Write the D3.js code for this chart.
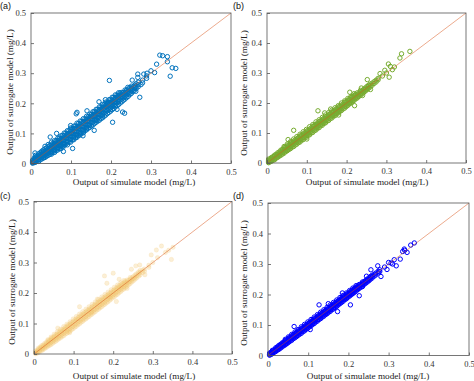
<!DOCTYPE html><html><head><meta charset="utf-8">
<script src="https://cdn.jsdelivr.net/npm/d3@7"></script>
<style>body{margin:0;background:#fff}svg{display:block}</style></head><body>
<svg id="c" width="474" height="381"></svg>
<script>
const tickValues=[0,0.1,0.2,0.3,0.4,0.5];
const tickLabels=["0","0.1","0.2","0.3","0.4","0.5"];
const panelLabels=["(a)","(b)","(c)","(d)"];
const xTitle="Output of simulate model (mg/L)";
const yTitle="Output of surrogate model (mg/L)";
// band columns: [x, y1, y2, ...]
const bandA=[[.004,.001,.006,.011,.003],[.011,.004,.009,.016,.021,.027],[.019,.007,.014,.020,.026,.032,.012],[.027,.015,.022,.028,.035,.041,.019],[.035,.020,.028,.034,.042,.049,.025,.057],[.043,.027,.034,.041,.048,.056,.038,.063],[.051,.031,.040,.047,.054,.062,.036,.071],[.059,.037,.046,.054,.061,.068,.076,.043],[.067,.045,.053,.061,.069,.077,.084,.050],[.075,.049,.060,.068,.076,.083,.092,.056],[.083,.058,.067,.076,.085,.093,.101,.063],[.091,.062,.074,.083,.092,.099,.109,.070],[.099,.071,.081,.091,.100,.108,.118,.126],[.107,.079,.089,.099,.107,.116,.124,.085],[.115,.087,.097,.106,.116,.124,.134,.092],[.123,.095,.104,.115,.123,.131,.141,.100],[.131,.102,.113,.122,.132,.139,.149,.108],[.139,.112,.121,.130,.139,.148,.157,.117],[.147,.120,.129,.139,.148,.155,.164,.126],[.155,.128,.137,.147,.156,.163,.172],[.163,.137,.146,.155,.164,.171,.180,.142],[.171,.144,.154,.164,.172,.179,.188],[.179,.152,.163,.171,.180,.187,.196,.158],[.187,.161,.171,.180,.188,.195,.204],[.195,.170,.179,.188,.196,.203,.212],[.203,.179,.188,.196,.204,.211,.220],[.211,.188,.197,.205,.212,.219,.228],[.219,.196,.206,.213,.220,.227,.235],[.227,.205,.214,.221,.229,.236],[.235,.214,.222,.229,.237,.244],[.243,.223,.231,.239,.247],[.251,.233,.242,.250,.257],[.259,.244,.252,.260],[.268,.255,.262,.270],[.279,.268,.277],[.289,.283,.291]];
const coreA=[[.008,.003,.008,.013,.018],[.015,.008,.013,.019,.024],[.023,.012,.018,.024,.030,.036],[.031,.018,.025,.031,.038,.045],[.039,.024,.031,.039,.045,.052],[.047,.030,.038,.046,.053,.060],[.055,.036,.045,.054,.061,.068],[.063,.043,.052,.061,.068,.076],[.071,.050,.059,.069,.077,.085],[.079,.057,.066,.076,.085,.093],[.087,.064,.074,.084,.092,.101],[.095,.071,.081,.092,.100,.109],[.103,.078,.089,.099,.108,.117],[.111,.085,.096,.107,.116,.125],[.119,.093,.104,.115,.124,.133],[.127,.101,.112,.123,.132,.140],[.135,.109,.120,.131,.140,.148],[.143,.117,.128,.139,.148,.156],[.151,.125,.136,.147,.156,.164],[.159,.133,.144,.155,.164,.172],[.167,.141,.152,.163,.172,.180],[.175,.149,.160,.171,.180,.188],[.183,.157,.168,.179,.188,.196],[.191,.166,.176,.187,.196,.204],[.199,.174,.185,.195,.204,.212],[.207,.183,.193,.203,.212,.220],[.215,.192,.202,.211,.220,.227],[.223,.201,.211,.219,.228,.235],[.231,.210,.219,.227,.236],[.239,.219,.228,.236,.244],[.247,.229,.237,.245,.252],[.255,.239,.247,.255],[.263,.249,.257,.265]];
const outA=[[.322,.360],[.329,.358],[.341,.355],[.341,.338],[.362,.316],[.353,.318],[.348,.290],[.309,.302],[.314,.330],[.300,.308],[.290,.300],[.282,.297],[.267,.297],[.196,.276],[.253,.277],[.267,.286],[.272,.220],[.242,.253],[.234,.167],[.229,.171],[.204,.137],[.115,.170],[.113,.165],[.098,.079],[.104,.050],[.158,.110],[.048,.088],[.010,.035],[.275,.262],[.262,.240],[.186,.212],[.170,.205],[.140,.175],[.215,.180],[.064,.100],[.081,.040],[.130,.092]];
const bandB=[[.004,.001,.005,.009,.003],[.011,.006,.010,.015,.018],[.019,.011,.016,.022,.026],[.027,.019,.023,.029,.034],[.035,.026,.032,.037,.043],[.043,.033,.039,.045,.051,.055],[.051,.041,.046,.052,.057,.063],[.059,.048,.054,.061,.066,.071],[.067,.055,.062,.068,.073,.080],[.075,.063,.069,.076,.081,.088],[.083,.070,.077,.083,.090,.096],[.091,.078,.085,.092,.097,.104],[.099,.086,.093,.099,.106,.112],[.107,.094,.101,.108,.113,.121],[.115,.102,.109,.115,.122,.128],[.123,.110,.117,.124,.129,.137],[.131,.118,.125,.131,.138,.144],[.139,.126,.133,.140,.145,.152],[.147,.134,.141,.147,.154,.160],[.155,.142,.149,.156,.161,.168],[.163,.150,.157,.163,.170,.176],[.171,.158,.165,.172,.177,.184],[.179,.167,.173,.179,.186,.191],[.187,.175,.181,.188,.193,.200],[.195,.183,.190,.195,.202,.207],[.203,.192,.198,.204,.209,.215],[.211,.200,.206,.211,.218,.222],[.219,.209,.214,.220,.225,.231],[.227,.217,.223,.228,.234],[.235,.226,.231,.237,.242],[.243,.235,.240,.246],[.251,.244,.249,.255],[.259,.253,.258,.263],[.269,.265,.271],[.279,.277,.282]];
const coreB=[[.008,.004,.008,.012],[.015,.009,.013,.017,.021],[.023,.016,.020,.025,.029],[.031,.023,.027,.032,.037],[.039,.030,.035,.040,.045],[.047,.038,.043,.048,.053],[.055,.045,.050,.056,.061],[.063,.053,.058,.064,.069],[.071,.060,.066,.072,.077],[.079,.068,.073,.080,.085],[.087,.076,.081,.088,.093],[.095,.084,.089,.096,.101],[.103,.092,.097,.104,.109],[.111,.100,.105,.112,.117],[.119,.108,.113,.120,.125],[.127,.116,.121,.128,.133],[.135,.124,.129,.136,.141],[.143,.132,.137,.144,.149],[.151,.140,.145,.152,.157],[.159,.148,.153,.160,.165],[.167,.156,.161,.168,.173],[.175,.164,.169,.176,.181],[.183,.172,.177,.184,.189],[.191,.180,.186,.192,.197],[.199,.188,.194,.200,.205],[.207,.197,.202,.208,.213],[.215,.205,.210,.216,.221],[.223,.214,.219,.224,.229],[.231,.222,.227,.233],[.239,.231,.236,.241],[.247,.240,.245,.250],[.255,.249,.254,.259],[.264,.259,.266],[.274,.270,.276]];
const outB=[[.359,.372],[.338,.364],[.334,.350],[.310,.322],[.315,.311],[.307,.286],[.296,.309],[.284,.298],[.252,.278],[.237,.250],[.208,.236],[.208,.200],[.220,.191],[.145,.167],[.128,.174],[.067,.109],[.053,.078],[.004,.013],[.300,.300],[.305,.330],[.320,.320],[.290,.290],[.260,.245],[.180,.160],[.240,.225],[.100,.080],[.160,.180]];
const bandC=[[.004,.001,.006,.010,.003],[.011,.005,.010,.015,.019],[.019,.011,.016,.022,.027],[.027,.018,.023,.029,.035],[.035,.025,.031,.037,.043,.047],[.043,.031,.038,.045,.051,.056],[.051,.039,.046,.052,.058,.065],[.059,.046,.053,.060,.066,.073],[.067,.053,.060,.068,.074,.081],[.075,.060,.068,.076,.082,.090],[.083,.068,.076,.083,.091,.098],[.091,.075,.083,.092,.099,.106],[.099,.083,.091,.099,.107,.115],[.107,.091,.099,.108,.115,.123],[.115,.099,.107,.115,.123,.131],[.123,.107,.115,.124,.131,.139],[.131,.115,.123,.131,.139,.147],[.139,.123,.131,.140,.147,.155],[.147,.131,.139,.147,.155,.163],[.155,.139,.147,.156,.163,.171],[.163,.147,.155,.163,.171,.179],[.171,.155,.163,.172,.179,.187],[.179,.163,.171,.180,.187,.195],[.187,.171,.180,.188,.195,.203],[.195,.180,.188,.195,.203,.211],[.203,.188,.196,.204,.211,.219],[.211,.196,.204,.212,.219,.226],[.219,.205,.213,.220,.227,.234],[.227,.213,.221,.228,.235,.241],[.235,.222,.230,.236,.243],[.243,.231,.238,.245,.251],[.251,.240,.247,.254],[.259,.249,.256,.263],[.268,.259,.267,.274],[.279,.271,.279],[.290,.284,.291]];
const coreC=[[.008,.003,.007,.012],[.015,.008,.013,.018,.022],[.023,.014,.019,.025,.030],[.031,.021,.027,.033,.038],[.039,.028,.034,.041,.046],[.047,.035,.042,.049,.054],[.055,.042,.049,.057,.063],[.063,.050,.057,.065,.071],[.071,.057,.065,.073,.079],[.079,.065,.072,.081,.087],[.087,.072,.080,.089,.095],[.095,.080,.088,.097,.103],[.103,.088,.096,.105,.111],[.111,.096,.104,.113,.119],[.119,.104,.112,.121,.127],[.127,.112,.120,.129,.135],[.135,.120,.128,.137,.143],[.143,.128,.136,.145,.151],[.151,.136,.144,.153,.159],[.159,.144,.152,.161,.167],[.167,.152,.160,.169,.175],[.175,.160,.168,.177,.183],[.183,.168,.176,.185,.191],[.191,.176,.184,.193,.199],[.199,.185,.193,.201,.207],[.207,.193,.201,.209,.215],[.215,.201,.209,.217,.223],[.223,.210,.218,.225,.231],[.231,.218,.226,.233,.239],[.239,.227,.235,.242],[.247,.236,.244,.250],[.255,.245,.252,.259],[.264,.255,.263,.269],[.274,.267,.275]];
const outC=[[.322,.354],[.309,.341],[.351,.350],[.347,.310],[.332,.333],[.296,.325],[.267,.292],[.257,.289],[.246,.278],[.200,.265],[.178,.256],[.184,.232],[.208,.172],[.190,.188],[.115,.155],[.145,.136],[.300,.300],[.312,.316],[.340,.340],[.280,.260],[.235,.215],[.160,.180],[.090,.070],[.060,.085],[.215,.245]];
const bandD=[[.004,.001,.005,.008,.003],[.011,.006,.010,.014,.017],[.019,.013,.017,.021,.025],[.027,.020,.024,.029,.033],[.035,.028,.032,.037,.041],[.043,.035,.040,.045,.049,.053],[.051,.043,.047,.052,.056,.061],[.059,.050,.055,.060,.064,.069],[.067,.058,.063,.068,.072,.077],[.075,.066,.071,.076,.080,.085],[.083,.073,.079,.084,.088,.094],[.091,.081,.087,.092,.096,.102],[.099,.089,.094,.100,.104,.110],[.107,.097,.102,.108,.112,.118],[.115,.105,.110,.116,.120,.126],[.123,.113,.118,.124,.128,.134],[.131,.121,.126,.132,.136,.142],[.139,.129,.134,.140,.144,.150],[.147,.137,.142,.148,.152,.158],[.155,.145,.150,.156,.160,.166],[.163,.153,.158,.164,.168,.174],[.171,.161,.166,.172,.176,.182],[.179,.170,.175,.180,.184,.190],[.187,.178,.183,.188,.192,.197],[.195,.186,.191,.196,.200,.205],[.203,.195,.199,.204,.208,.213],[.211,.203,.207,.212,.216,.221],[.219,.211,.216,.220,.224,.229],[.227,.220,.224,.228,.233],[.235,.228,.233,.237,.241],[.243,.237,.241,.246],[.251,.245,.250,.255],[.259,.254,.259,.263],[.268,.264,.270],[.278,.275,.281]];
const coreD=[[.008,.004,.008,.011],[.015,.010,.014,.018],[.023,.017,.021,.025,.028],[.031,.024,.028,.032,.036],[.039,.032,.036,.040,.044],[.047,.039,.044,.048,.052],[.055,.047,.051,.056,.060],[.063,.055,.059,.064,.068],[.071,.062,.067,.072,.076],[.079,.070,.075,.080,.084],[.087,.078,.083,.088,.092],[.095,.086,.091,.096,.100],[.103,.094,.099,.104,.108],[.111,.102,.107,.112,.116],[.119,.110,.115,.120,.124],[.127,.118,.123,.128,.132],[.135,.126,.131,.136,.140],[.143,.134,.139,.144,.148],[.151,.142,.147,.152,.156],[.159,.150,.155,.160,.164],[.167,.158,.163,.168,.172],[.175,.166,.171,.176,.180],[.183,.174,.179,.184,.188],[.191,.183,.187,.192,.196],[.199,.191,.195,.200,.204],[.207,.199,.203,.208,.212],[.215,.207,.212,.216,.220],[.223,.216,.220,.224,.228],[.231,.224,.229,.233],[.239,.233,.237,.242],[.247,.241,.246,.250],[.255,.250,.255,.259],[.264,.260,.266],[.274,.271,.276]];
const outD=[[.364,.369],[.355,.362],[.339,.349],[.335,.341],[.346,.338],[.314,.314],[.306,.303],[.319,.294],[.329,.316],[.273,.294],[.256,.281],[.281,.259],[.235,.226],[.227,.196],[.205,.166],[.127,.166],[.173,.144],[.065,.095],[.290,.290],[.300,.305],[.296,.282],[.310,.300],[.245,.260],[.185,.205],[.150,.170],[.105,.085],[.340,.345]];

const panels=[
 {band:bandA,core:coreA,out:outA,x0:31,x1:231,y0:13,y1:163.5,lab:[0,9],yt:[10,92],xt:[134,185],kind:"ring",col:"#0072BD"},
 {band:bandB,core:coreB,out:outB,x0:267,x1:466,y0:13,y1:163,lab:[233,9],yt:[244,93],xt:[367,185],kind:"ring",col:"#77AC30"},
 {band:bandC,core:coreC,out:outC,x0:34,x1:232,y0:201.5,y1:354,lab:[0,199],yt:[12,282],xt:[134,379],kind:"fill",col:"#EDB120"},
 {band:bandD,core:coreD,out:outD,x0:268,x1:469,y0:203,y1:355.5,lab:[233,199],yt:[244,283],xt:[368,379],kind:"ring",col:"#0000FF"}
];
const svg=d3.select("#c");
panels.forEach((p,i)=>{
  const x=d3.scaleLinear().domain([0,0.5]).range([p.x0,p.x1]);
  const y=d3.scaleLinear().domain([0,0.5]).range([p.y1,p.y0]);
  const g=svg.append("g");
  const pts=[];
  p.band.forEach(c=>{for(let k=1;k<c.length;k++)pts.push([c[0],c[k]]);});
  p.core.forEach(c=>{for(let k=1;k<c.length;k++)pts.push([c[0],c[k]]);});
  p.out.forEach(d=>pts.push(d));
  const cs=g.append("g").selectAll("circle").data(pts).join("circle")
    .attr("cx",d=>x(d[0])).attr("cy",d=>y(d[1])).attr("r",2.2);
  if(p.kind==="ring") cs.attr("fill","none").attr("stroke",p.col).attr("stroke-width",1.0);
  else cs.attr("fill","#F2C46A").attr("fill-opacity",0.28).attr("stroke","#F2C46A").attr("stroke-opacity",0.25).attr("stroke-width",0.6);
  g.append("line").attr("x1",x(0)).attr("y1",y(0)).attr("x2",x(0.5)).attr("y2",y(0.5))
    .attr("stroke","#D95319").attr("stroke-opacity",0.7).attr("stroke-width",0.7);
  g.append("rect").attr("x",p.x0).attr("y",p.y0).attr("width",p.x1-p.x0).attr("height",p.y1-p.y0)
    .attr("fill","none").attr("stroke","#555").attr("stroke-width",0.8);
  const xa=d3.axisBottom(x).tickValues(tickValues).tickFormat((d,j)=>tickLabels[j]).tickSize(-3).tickPadding(5);
  const ya=d3.axisLeft(y).tickValues(tickValues).tickFormat((d,j)=>tickLabels[j]).tickSize(-3).tickPadding(5);
  const gx=g.append("g").attr("transform",`translate(0,${p.y1})`).call(xa);
  const gy=g.append("g").attr("transform",`translate(${p.x0},0)`).call(ya);
  [gx,gy].forEach(a=>{a.select(".domain").remove();
    a.selectAll("line").attr("stroke","#555").attr("stroke-width",0.8);
    a.selectAll("text").attr("fill","#333").style("font-family","'Liberation Serif',serif").style("font-size","8.5px");});
  g.append("text").attr("x",p.xt[0]).attr("y",p.xt[1]).attr("text-anchor","middle")
    .style("font-family","'Liberation Serif',serif").style("font-size","9.2px").attr("fill","#222").text(xTitle);
  g.append("text").attr("transform",`translate(${p.yt[0]},${p.yt[1]}) rotate(-90)`).attr("dy","0.35em").attr("text-anchor","middle")
    .style("font-family","'Liberation Serif',serif").style("font-size","9.2px").attr("fill","#222").text(yTitle);
  g.append("text").attr("x",p.lab[0]).attr("y",p.lab[1])
    .style("font-family","'Liberation Sans',Arial,sans-serif").style("font-size","9px").attr("fill","#111").text(panelLabels[i]);
});
</script></body></html>
